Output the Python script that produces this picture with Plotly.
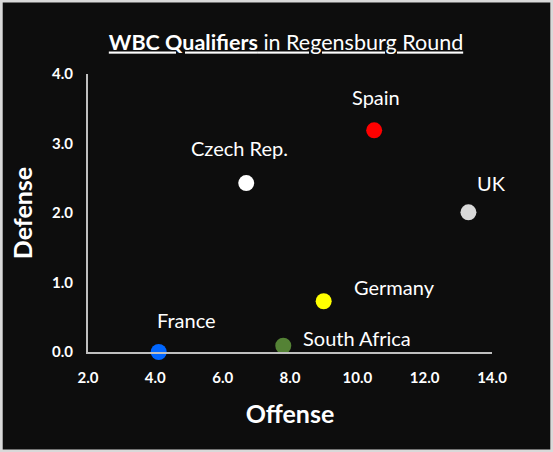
import plotly.graph_objs as go

# team ratings
teams = ['France', 'South Africa', 'Germany', 'Czech Rep.', 'Spain', 'UK']
offense = [4.1, 7.8, 9.0, 6.7, 10.5, 13.3]
defense = [0.0, 0.09, 0.73, 2.43, 3.19, 2.01]
colors = ['#0066ff', '#548235', '#ffff00', '#ffffff', '#ff0000', '#d9d9d9']

# label placement (xanchor, xshift, yshift) per team
label_pos = [('center', 28, 32), ('left', 18, 8), ('left', 28, 14),
             ('center', -7, 35), ('center', 2, 33), ('center', 23, 29)]

fnt = 'Lato, Carlito, Calibri, sans-serif'

data = [go.Scatter(x=offense, y=defense, mode='markers',
                   marker=dict(size=16, color=colors, line=dict(width=0)),
                   hovertext=teams, cliponaxis=False)]

layout = go.Layout(
    width=553, height=452,
    paper_bgcolor='#0d0d0d', plot_bgcolor='#0d0d0d',
    font=dict(family=fnt, color='white'),
    margin=dict(l=88, r=61, t=74, b=100),
    showlegend=False,
    title=dict(text='<u><b>WBC Qualifiers</b> in Regensburg Round</u>',
               x=286 / 553, xanchor='center', y=1 - 42 / 452, yanchor='middle',
               font=dict(size=21.5, color='white')),
    xaxis=dict(range=[2, 14], dtick=2, tickformat='.1f', showgrid=False, zeroline=False,
               showline=True, linecolor='#bfbfbf', linewidth=2, ticks='', ticklabelstandoff=11,
               tickfont=dict(size=15, color='white', family=fnt, weight='bold'),
               title=dict(text='<b>Offense</b>', font=dict(size=25), standoff=20)),
    yaxis=dict(range=[0, 4], dtick=1, tickformat='.1f', showgrid=False, zeroline=False,
               showline=True, linecolor='#bfbfbf', linewidth=2, ticks='', ticklabelstandoff=10,
               tickfont=dict(size=15, color='white', family=fnt, weight='bold'),
               title=dict(text='<b>Defense</b>', font=dict(size=25), standoff=12)),
    shapes=[dict(type='rect', xref='paper', yref='paper',
                 x0=-88 / 404 + 0.003, x1=1 + 61 / 404 - 0.003,
                 y0=-100 / 278 + 0.004, y1=1 + 74 / 278 - 0.004,
                 line=dict(color='#d9d9d9', width=3))],
)

fig = go.Figure(data=data, layout=layout)
for t, x, y, (anc, dx, dy) in zip(teams, offense, defense, label_pos):
    fig.add_annotation(x=x, y=y, text=t, showarrow=False, xanchor=anc, yanchor='middle',
                       xshift=dx, yshift=dy, font=dict(size=20, color='white'))

fig.write_html('out.html', config={'displayModeBar': False},
               post_script="document.body.style.margin='0';")
